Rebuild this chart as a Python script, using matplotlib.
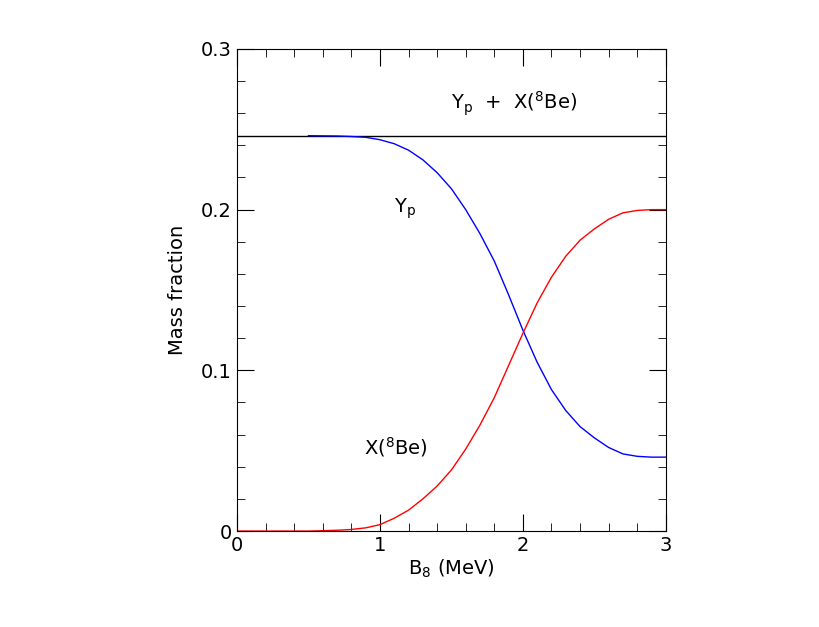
import numpy as np
import matplotlib.pyplot as plt
from matplotlib.ticker import MultipleLocator

# B8 (MeV) grid and mass fractions
b8 = [0.0, 0.5, 0.7, 0.8, 0.9, 1.0, 1.1, 1.2, 1.3, 1.4, 1.5, 1.6, 1.7, 1.8,
      1.9, 2.0, 2.1, 2.2, 2.3, 2.4, 2.5, 2.6, 2.7, 2.8, 2.9, 3.0]
x_be8 = [0.0, 0.0, 0.0005, 0.001, 0.002, 0.004, 0.008, 0.013, 0.020, 0.028,
         0.038, 0.051, 0.066, 0.083, 0.103, 0.123, 0.142, 0.158, 0.171, 0.181,
         0.188, 0.194, 0.198, 0.1995, 0.2, 0.2]
b8_yp = b8[1:]
yp = [0.246, 0.2458, 0.2455, 0.245, 0.2435, 0.241, 0.237, 0.231, 0.223, 0.213,
      0.200, 0.185, 0.168, 0.147, 0.125, 0.105, 0.088, 0.075, 0.065, 0.058,
      0.052, 0.048, 0.0465, 0.046, 0.046]
total = [0.246, 0.246]

fig = plt.figure(figsize=(8.2, 6.27), dpi=100, facecolor='white')
ax = fig.add_axes([0.289, 0.153, 0.523, 0.769])
ax.plot([0, 3], total, color='black', lw=1)
ax.plot(b8_yp, yp, color='blue', lw=1)
ax.plot(b8, x_be8, color='red', lw=1)

ax.set_xlim(0, 3)
ax.set_ylim(0, 0.3)
ax.xaxis.set_minor_locator(MultipleLocator(0.2))
ax.yaxis.set_minor_locator(MultipleLocator(0.02))
ax.set_yticks([0, 0.1, 0.2, 0.3])
ax.set_yticklabels(['0', '0.1', '0.2', '0.3'])
ax.set_xticks([0, 1, 2, 3])
ax.set_xticklabels(['0', '1', '2', '3'])
ax.tick_params(which='both', direction='in', top=True, right=True, labelsize=14)
ax.tick_params(which='major', length=12)
ax.tick_params(which='minor', length=6)

ax.set_xlabel('B$_8$ (MeV)', fontsize=14, labelpad=2)
ax.set_ylabel('Mass fraction', fontsize=14, labelpad=10)
ax.text(1.5, 0.262, 'Y$_\\mathregular{p}$  +  X($^8$Be)', fontsize=14)
ax.text(1.1, 0.198, 'Y$_\\mathregular{p}$', fontsize=14)
ax.text(0.89, 0.048, 'X($^8$Be)', fontsize=14)

fig.savefig('out.png', dpi=100, facecolor=fig.get_facecolor())
